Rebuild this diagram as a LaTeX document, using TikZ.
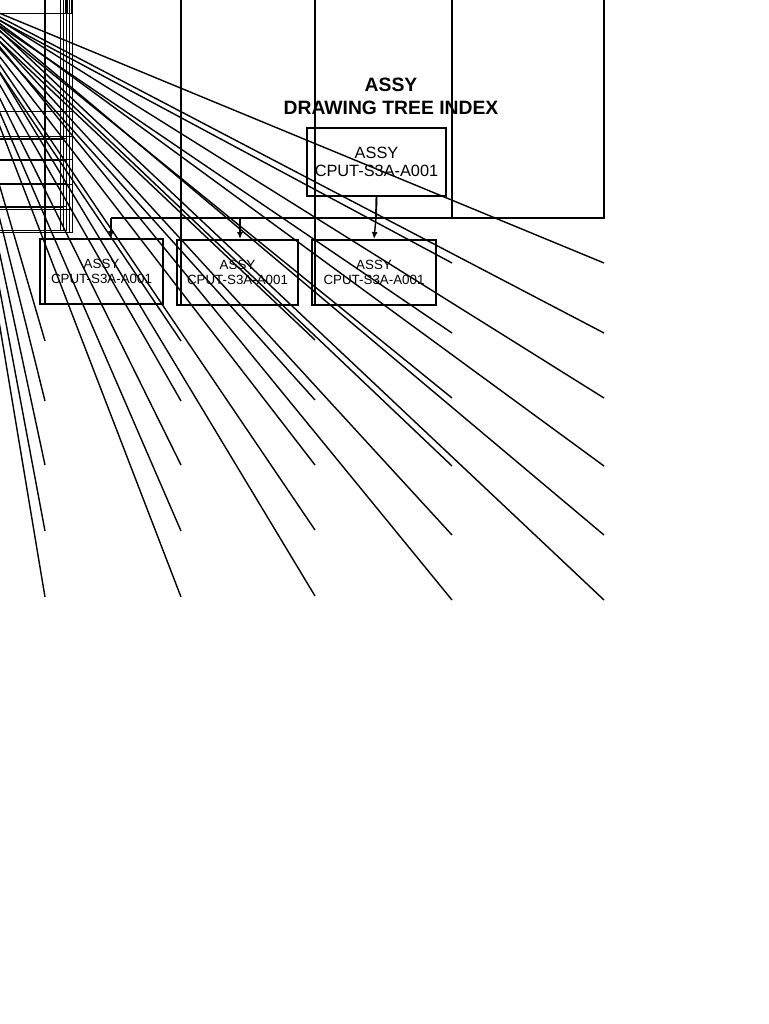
\documentclass[tikz,border=0pt]{standalone}
\usepackage{fontspec}
\setmainfont{Liberation Sans}
\usetikzlibrary{arrows.meta}
\tikzset{
  leaf/.style={draw, line width=0.6pt, font=\fontsize{7.6}{8.5}\selectfont, inner sep=0pt},
  assy/.style={leaf, line width=1.1pt, align=center},
  link/.style={line width=0.8pt, -{Latex[length=4pt,width=3.5pt]}},
  bus/.style={line width=1.1pt}
}
% box from corner to corner, text slightly above its centre
\newcommand{\bx}[7][leaf]{%
  \node[#1, minimum width=#4*0.02cm-#2*0.02cm, minimum height=#5*0.02cm-#3*0.02cm,
        text height=1.2ex, yshift=0pt] (#6) at ({(#2+#4)/2*0.02}, {-(#3+#5)/2*0.02}) {};
  \node[font=\fontsize{7.6}{8.5}\selectfont, align=center, anchor=north] at ([yshift=-0.3cm]#6.north) {#7};}
\begin{document}
\begin{tikzpicture}[x=0.02cm, y=-0.02cm]
  \useasboundingbox (0,0) rectangle (768,1024);
  \node[font=\bfseries\fontsize{11}{13}\selectfont, align=center] (title) at (391,96) {ASSY\\DRAWING TREE INDEX};
  \node[draw, line width=1.1pt, minimum width=139*0.02cm, minimum height=68*0.02cm,
        align=center, font=\fontsize{9.3}{10.5}\selectfont] (top) at (376.5,162) {ASSY\\CPUT-S3A-A001};
  % second level
  \node[assy, minimum width=123*0.02cm, minimum height=65*0.02cm] (a1) at (101.5,271.5) {ASSY\\CPUT-S3A-A001};
  \node[assy, minimum width=121*0.02cm, minimum height=65*0.02cm] (a2) at (237.5,272.5) {ASSY\\CPUT-S3A-A001};
  \node[assy, minimum width=124*0.02cm, minimum height=65*0.02cm] (a3) at (374,272.5) {ASSY\\CPUT-S3A-A001};
  % bus
  \coordinate (b0) at (111,218);
  \coordinate (b4) at (452,218);
  \coordinate (b5) at (605,218);
  \draw[bus] (top.south) -- (376,218);
  \draw[bus] (b0) -- (b5);
  \draw[link] (b0) -- (a1.north -| b0);
  \draw[link] (240,218) -- (a2.north -| 240,0);
  \draw[link] (376,218) -- (a3.north);
  % columns of children
  \foreach \c/\x/\xa/\xb/\yy in {1/45/59/176/{314,374,438,504,570},
                                 2/181/194/310/{314,374,438,504,570},
                                 3/315/329/446/{313,373,438,503,569}} {
    \foreach \y [count=\r] in \yy {
      \bx{\xa}{\y}{\xb}{\y+54}{c\c r\r}{CPUT-S3A-A001}
      \draw[link] (\x,\y+27) -- (c\c r\r.west);
    }
  }
  \foreach \c/\x/\xa/\xb in {4/452/475/592, 5/604/629/746} {
    \foreach \y [count=\r] in {236,306,371,439,508,573} {
      \bx{\xa}{\y}{\xb}{\y+55}{c\c r\r}{CPUT-S3A-A001}
      \draw[link] (\x,\y+27) -- (c\c r\r.west);
    }
  }
  % bottom boxes
  \bx{33}{636}{150}{690}{d1}{CPUT-S3A-A001}
  \bx{172}{636}{289}{690}{d2}{CPUT-S3A-A001}
  \bx{305}{636}{421}{690}{d3}{CPUT-S3A-A001}
  \bx{436}{646}{552}{700}{d4}{CPUT-S3A-A001}
  \bx{591}{646}{708}{700}{d5}{CPUT-S3A-A001}
  \draw[link] (a1.south -| 45,0) -- (d1.north -| 45,0);
  \draw[link] (a2.south -| 181,0) -- (d2.north -| 181,0);
  \draw[link] (a3.south -| 315,0) -- (d3.north -| 315,0);
  \draw[link] (b4) -- (d4.north -| b4);
  \draw[link] (604,218) -- (d5.north -| 604,0);
\end{tikzpicture}
\end{document}
